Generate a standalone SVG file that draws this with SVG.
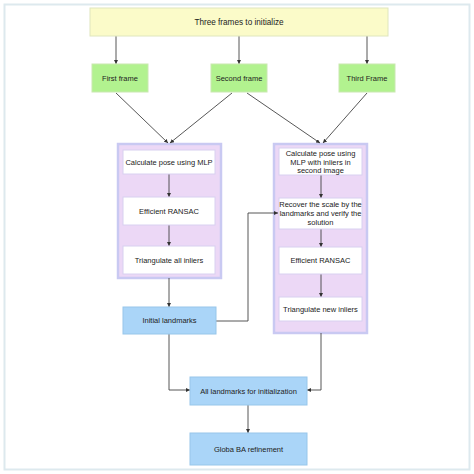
<svg xmlns="http://www.w3.org/2000/svg" width="474" height="474" viewBox="0 0 474 474">
<defs>
<marker id="ah" viewBox="0 0 6 6" refX="6" refY="3" markerWidth="4" markerHeight="4" orient="auto" markerUnits="userSpaceOnUse">
<path d="M0,0 L6,3 L0,6 Z" fill="#333"/>
</marker>
<style>
text{font-family:"Liberation Sans",Arial,sans-serif;font-size:7.5px;fill:#222;text-anchor:middle;dominant-baseline:central}
.yel{fill:#fbfbc9;stroke:#dfe6bd;stroke-width:1}
.grn{fill:#b2f28f;stroke:#c9e8b0;stroke-width:1}
.blu{fill:#aad5f8;stroke:#97c6ea;stroke-width:1}
.cont{fill:#ecd8f6;stroke:#c9c9f2;stroke-width:2.5}
.wht{fill:#ffffff;stroke:#d8d0f0;stroke-width:1}
.ln{fill:none;stroke:#444;stroke-width:0.9;marker-end:url(#ah)}
.ln2{fill:none;stroke:#444;stroke-width:0.9}
</style>
</defs>
<rect x="0" y="0" width="474" height="474" fill="#ffffff"/>
<rect x="4.5" y="4.5" width="465" height="465" fill="#ffffff" stroke="#dde9ee" stroke-width="2"/>

<g id="containers">
<rect id="left-container" class="cont" x="118" y="144" width="103" height="134"/>
<rect id="right-container" class="cont" x="274" y="144" width="93" height="189"/>
</g>

<g id="connectors">
<line class="ln" x1="116" y1="36" x2="116" y2="64"/>
<line class="ln" x1="239" y1="36" x2="239" y2="64"/>
<line class="ln" x1="367" y1="36" x2="367" y2="64"/>
<line class="ln" x1="116" y1="93" x2="168" y2="143"/>
<line class="ln" x1="232" y1="93" x2="170" y2="143"/>
<line class="ln" x1="247" y1="93" x2="320" y2="143"/>
<line class="ln" x1="367" y1="93" x2="323" y2="143"/>
<line class="ln" x1="169" y1="174" x2="169" y2="197"/>
<line class="ln" x1="169" y1="225" x2="169" y2="246"/>
<line class="ln" x1="169" y1="278" x2="169" y2="307"/>
<line class="ln" x1="321" y1="175" x2="321" y2="198"/>
<line class="ln" x1="321" y1="229" x2="321" y2="247"/>
<line class="ln" x1="321" y1="274" x2="321" y2="297"/>
<polyline class="ln" points="216,321 248,321 248,213 278,213"/>
<polyline class="ln" points="169,334 169,390 190,390"/>
<polyline class="ln" points="321,333 321,390 307,390"/>
<line class="ln" x1="248" y1="405" x2="248" y2="433"/>
</g>

<g id="n-three"><rect class="yel" x="90" y="8" width="298" height="28"/><text x="239" y="22" style="font-size:8.2px">Three frames to initialize</text></g>
<g id="n-first"><rect class="grn" x="92" y="64" width="56" height="28"/><text x="120" y="78.5">First frame</text></g>
<g id="n-second"><rect class="grn" x="211" y="64" width="56" height="28"/><text x="239" y="78.5">Second frame</text></g>
<g id="n-third"><rect class="grn" x="339" y="64" width="56" height="28"/><text x="367" y="78.5">Third Frame</text></g>

<g id="n-l1"><rect class="wht" x="123" y="150" width="92" height="24"/><text x="169" y="162">Calculate pose using MLP</text></g>
<g id="n-l2"><rect class="wht" x="123" y="197" width="92" height="28"/><text x="169" y="211">Efficient RANSAC</text></g>
<g id="n-l3"><rect class="wht" x="123" y="246" width="92" height="28"/><text x="169" y="260">Triangulate all inliers</text></g>

<g id="n-r1"><rect class="wht" x="279" y="148" width="83" height="27"/><text x="320.5" y="153.5">Calculate pose using</text><text x="320.5" y="162">MLP with inliers in</text><text x="320.5" y="170.5">second image</text></g>
<g id="n-r2"><rect class="wht" x="279" y="198" width="83" height="31"/><text x="320.5" y="204">Recover the scale by the</text><text x="320.5" y="213.5">landmarks and verify the</text><text x="320.5" y="222.5">solution</text></g>
<g id="n-r3"><rect class="wht" x="279" y="247" width="83" height="27"/><text x="320.5" y="260.5">Efficient RANSAC</text></g>
<g id="n-r4"><rect class="wht" x="279" y="297" width="83" height="24"/><text x="320.5" y="309">Triangulate new inliers</text></g>

<g id="n-initial"><rect class="blu" x="123" y="307" width="93" height="27"/><text x="169.5" y="320.5">Initial landmarks</text></g>
<g id="n-all"><rect class="blu" x="190" y="377" width="117" height="28"/><text x="248.5" y="391">All landmarks for initialization</text></g>
<g id="n-ba"><rect class="blu" x="190" y="433" width="117" height="32"/><text x="248.5" y="449">Globa BA refinement</text></g>
</svg>
